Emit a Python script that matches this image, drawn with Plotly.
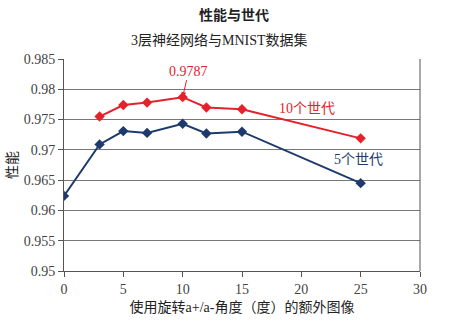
import plotly.graph_objects as go

# rotation angle (degrees) used for the extra training images
angles_10 = [3, 5, 7, 10, 12, 15, 25]
perf_10 = [0.9755, 0.9774, 0.9778, 0.9787, 0.9770, 0.9767, 0.9719]

angles_5 = [0, 3, 5, 7, 10, 12, 15, 25]
perf_5 = [0.9624, 0.9709, 0.9731, 0.9728, 0.9743, 0.9727, 0.9730, 0.9645]

x_ticks = [0, 5, 10, 15, 20, 25, 30]
y_ticks = [0.95, 0.955, 0.96, 0.965, 0.97, 0.975, 0.98, 0.985]
y_tick_text = ["0.95", "0.955", "0.96", "0.965", "0.97", "0.975", "0.98", "0.985"]

RED = "#e3222b"
BLUE = "#1e3a6d"
SERIF = "Liberation Serif, Noto Sans CJK SC"
CJK = "Noto Sans CJK SC"

fig = go.Figure()
fig.add_trace(go.Scatter(
    x=angles_5, y=perf_5, mode="lines+markers",
    line=dict(color=BLUE, width=2),
    marker=dict(symbol="diamond", size=8, color=BLUE),
    showlegend=False,
))
fig.add_trace(go.Scatter(
    x=angles_10, y=perf_10, mode="lines+markers",
    line=dict(color=RED, width=2),
    marker=dict(symbol="diamond", size=8, color=RED),
    showlegend=False,
))

# peak value callout
peak_i = perf_10.index(max(perf_10))
fig.add_annotation(
    x=angles_10[peak_i], y=perf_10[peak_i],
    text=f"{perf_10[peak_i]:.4f}", showarrow=True, arrowhead=2, arrowsize=1,
    arrowwidth=1, arrowcolor=RED, ax=6, ay=-26,
    font=dict(family=SERIF, size=14, color=RED),
)
# series labels
fig.add_annotation(x=20.5, y=0.9769, text="10个世代", showarrow=False,
                   font=dict(family=SERIF, size=14, color=RED))
fig.add_annotation(x=24.8, y=0.9684, text="5个世代", showarrow=False,
                   font=dict(family=SERIF, size=14, color=BLUE))

# titles
fig.add_annotation(text="<b>性能与世代</b>", xref="paper", yref="paper",
                   x=(230 - 56) / 364, y=(325 - 51 - 13) / 215, yanchor="middle",
                   showarrow=False, font=dict(family=CJK, size=14, color="#222"))
fig.add_annotation(text="3层神经网络与MNIST数据集", xref="paper", yref="paper",
                   x=(215 - 56) / 364, y=(325 - 51 - 40) / 215, yanchor="middle",
                   showarrow=False, font=dict(family=SERIF, size=14, color="#222"))

fig.update_layout(
    width=456, height=325,
    margin=dict(l=56, r=36, t=59, b=51),
    paper_bgcolor="white", plot_bgcolor="white",
)

fig.update_xaxes(
    range=[0, 30], tickvals=x_ticks, ticks="outside", ticklen=5,
    tickcolor="#555", showline=True, linecolor="#555", linewidth=1,
    mirror=False, showgrid=False, zeroline=False,
    tickfont=dict(family=SERIF, size=14, color="#444"),
    title=dict(text="使用旋转a+/a-角度（度）的额外图像",
               font=dict(family=SERIF, size=14, color="#222"), standoff=6),
)
fig.update_yaxes(
    range=[0.95, 0.985], tickvals=y_ticks, ticktext=y_tick_text,
    ticks="outside", ticklen=5, tickcolor="#555", showline=True,
    linecolor="#555", linewidth=1, showgrid=True, gridcolor="#777",
    gridwidth=1, zeroline=False,
    tickfont=dict(family=SERIF, size=14, color="#444"),
    title=dict(text="性能", font=dict(family=CJK, size=14, color="#222"),
               standoff=2),
)
# right border of the plot area
fig.add_shape(type="line", xref="paper", yref="paper", x0=1, x1=1, y0=0, y1=1,
              line=dict(color="#555", width=1))

fig.write_html("out.html")
